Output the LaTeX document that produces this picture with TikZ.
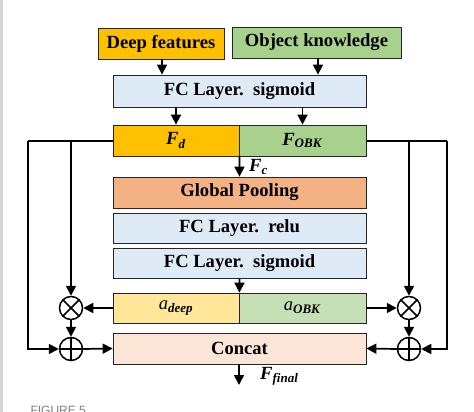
\documentclass[tikz,border=0pt]{standalone}
\usepackage{fontspec}
\setmainfont{Liberation Serif}
\newfontfamily\capfont{Liberation Sans}
\usepackage{xcolor}
\usepackage{tikz}
\usetikzlibrary{positioning,arrows.meta,calc}
\definecolor{deeporange}{HTML}{FFC000}
\definecolor{obkgreen}{HTML}{A9D18E}
\definecolor{fcblue}{HTML}{DEEBF7}
\definecolor{poolorange}{HTML}{F4B183}
\definecolor{attyellow}{HTML}{FFE699}
\definecolor{attgreen}{HTML}{C5E0B4}
\definecolor{catpeach}{HTML}{FBE5D6}
\definecolor{framegray}{HTML}{D4D4D4}
\newcommand{\vsym}[2]{\textbf{\textit{#1}}\textsubscript{\textbf{\textit{#2}}}}
\tikzset{
  layer/.style  = {rectangle, draw=black!85, fill=#1, line width=0.8pt, inner sep=0pt,
                   minimum height=31pt, font=\fontsize{18.6}{20}\selectfont\bfseries},
  mulop/.style  = {circle, draw, line width=1.5pt, minimum size=23pt, inner sep=0pt,
                   path picture={\draw[line width=1.5pt]
                     (path picture bounding box.north west) -- (path picture bounding box.south east)
                     (path picture bounding box.south west) -- (path picture bounding box.north east);}},
  addop/.style  = {circle, draw, line width=1.5pt, minimum size=23pt, inner sep=0pt,
                   path picture={\draw[line width=1.5pt]
                     (path picture bounding box.north) -- (path picture bounding box.south)
                     (path picture bounding box.west) -- (path picture bounding box.east);}},
  flow/.style   = {-{Triangle[length=10pt,width=10pt]}, line width=1.7pt},
  wire/.style   = {line width=1.7pt},
  lbl/.style    = {font=\fontsize{18.6}{20}\selectfont, inner sep=0pt},
}
\begin{document}
\begin{tikzpicture}[x=1pt, y=-1pt]
  \useasboundingbox (0,0) rectangle (474,412);
  \fill[white] (0,0) rectangle (474,412);
  \fill[framegray] (0,0) rectangle (3,412);
  \node[anchor=base west, font=\capfont\fontsize{12}{14}\selectfont, text=black!50] (fig) at (27,414) {FIGURE 5};

  \node[layer=deeporange, minimum width=126pt] (deep) at (161,43.5) {Deep features};
  \node[layer=obkgreen, minimum width=169pt] (obk) at (316.5,42.5) {Object knowledge};
  \node[layer=fcblue, minimum width=253pt, minimum height=32pt] (fc1) at (239.5,91) {FC Layer.\ \ sigmoid};
  \node[layer=deeporange, minimum width=126pt] (fd) at (176,140.5) {\vsym{F}{d}};
  \node[layer=obkgreen, minimum width=127pt] (fobk) at (302.5,140.5) {\vsym{F}{OBK}};
  \node[layer=poolorange, minimum width=253pt] (pool) at (239.5,192.5) {Global Pooling};
  \node[layer=fcblue, minimum width=253pt, minimum height=30pt] (fc2) at (239.5,228) {FC Layer.\ \ relu};
  \node[layer=fcblue, minimum width=253pt, minimum height=30pt] (fc3) at (239.5,263) {FC Layer.\ \ sigmoid};
  \node[layer=attyellow, minimum width=126pt, minimum height=30pt, font=\fontsize{18.6}{20}\selectfont] (adeep) at (176,308)
    {\textit{a}\textsubscript{\textbf{\textit{deep}}}};
  \node[layer=attgreen, minimum width=127pt, minimum height=30pt, font=\fontsize{18.6}{20}\selectfont] (aobk) at (302.5,308)
    {\textit{a}\textsubscript{\textbf{\textit{OBK}}}};
  \node[layer=catpeach, minimum width=253pt] (concat) at (239.5,348.5) {Concat};

  \node[mulop] (mull) at (71,308) {};
  \node[addop] (addl) at (71,349) {};
  \node[mulop] (mulr) at (409,308) {};
  \node[addop] (addr) at (409,349) {};

  \coordinate (outl) at (28,141);
  \coordinate (outr) at (447,141);
  \coordinate (final) at (239,385);

  \draw[flow] (deep.south -| 162,0) -- (fc1.north -| 162,0);
  \draw[flow] (obk.south -| 318,0) -- (fc1.north -| 318,0);
  \draw[flow] (fc1.south -| fd) -- (fd.north);
  \draw[flow] (fc1.south -| fobk) -- (fobk.north);
  \draw[flow] (fd.south east) -- (pool.north);
  \node[lbl, anchor=west] (fc) at (249,167) {\vsym{F}{c}};
  \draw[flow] (fc3.south) -- (adeep.north east);

  \draw[wire] (fd.west |- outl) -- (outl);
  \draw[flow] (outl) |- (addl.west);
  \draw[flow] (mull |- outl) -- (mull.north);
  \draw[flow] (adeep.west) -- (mull.east);
  \draw[flow] (mull.south) -- (addl.north);
  \draw[flow] (addl.east) -- (concat.west);

  \draw[wire] (fobk.east |- outr) -- (outr);
  \draw[flow] (outr) |- (addr.east);
  \draw[flow] (mulr |- outr) -- (mulr.north);
  \draw[flow] (aobk.east) -- (mulr.west);
  \draw[flow] (mulr.south) -- (addr.north);
  \draw[flow] (addr.west) -- (concat.east);

  \draw[flow] (concat.south -| final) -- (final);
  \node[lbl, anchor=west] (ffinal) at (260,376) {\vsym{F}{final}};
\end{tikzpicture}
\end{document}
